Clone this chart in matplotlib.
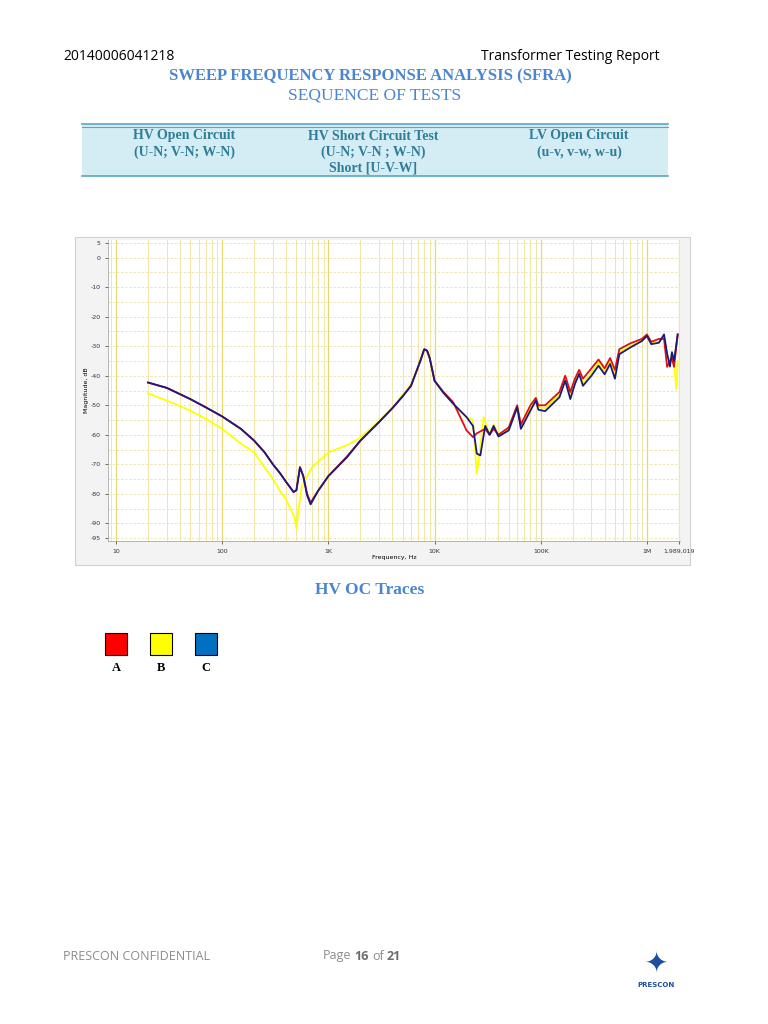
import matplotlib
matplotlib.use("Agg")
import matplotlib.pyplot as plt
from matplotlib.patches import Rectangle
from matplotlib.ticker import FixedLocator, NullFormatter, LogLocator

# ---------------- data ----------------
freq_c = [20,30,50,70,100,150,200,250,300,350,400,470,500,540,580,630,680,800,1000,1500,2000,3000,4000,5000,6000,7000,7500,8000,8500,9000,10000,12000,15000,20000,23000,25000,27000,30000,33000,36000,40000,50000,60000,65000,80000,90000,95000,110000,150000,170000,190000,210000,230000,250000,300000,350000,400000,450000,500000,550000,700000,900000,1000000,1100000,1300000,1450000,1550000,1650000,1720000,1800000,1950000]
mag_c = [-42.3,-44.1,-47.9,-50.7,-53.8,-58,-62,-65.9,-70,-73,-76,-79.4,-78.8,-71,-74,-80.5,-83.6,-79,-74,-67.6,-62,-55.7,-51,-47,-43.4,-37,-34,-31,-31.5,-34,-41.7,-45.6,-49.5,-54,-57,-66.4,-67,-57,-60,-57,-60.6,-58.5,-50.7,-58,-51.8,-48.4,-51.5,-52,-47.3,-41.7,-47.9,-42.8,-39.4,-43.4,-40,-36.6,-39.5,-36,-41,-32.7,-30.4,-28.2,-26.5,-29.3,-28.8,-26,-32.5,-36.9,-32,-35,-26]
freq_a = [20,30,50,70,100,150,200,250,300,350,400,470,500,540,580,630,680,800,1000,1500,2000,3000,4000,5000,6000,7000,7500,8000,8500,9000,10000,12000,15000,20000,23000,25000,30000,33000,36000,40000,50000,60000,65000,80000,90000,95000,110000,150000,170000,190000,210000,230000,250000,300000,350000,400000,450000,500000,550000,700000,900000,1000000,1100000,1300000,1450000,1550000,1650000,1720000,1800000,1950000]
mag_a = [-42.3,-44.1,-47.9,-50.7,-53.8,-58,-62,-65.9,-70,-73,-76,-79.4,-78.8,-71,-74,-80,-83,-79,-74,-67.3,-62,-55.7,-51,-47,-43.4,-37,-34,-31,-31.5,-34,-41.7,-45.3,-49,-58.5,-60.8,-59.5,-58,-60,-58,-60,-57.5,-50,-56.5,-50,-47.5,-50,-50,-45.5,-40,-45.5,-41,-38,-41,-37.5,-34.5,-37.5,-34,-38,-31,-29,-27.5,-26,-28.5,-27.5,-27.5,-37,-35,-34,-37,-26]
freq_b = [20,30,50,70,100,150,200,250,300,350,400,480,500,530,560,700,1000,1500,2000,3000,4000,5000,6000,7000,7500,8000,8500,9000,10000,12000,15000,20000,23000,25000,27000,29000,33000,36000,40000,50000,60000,65000,80000,90000,95000,110000,150000,170000,190000,210000,230000,250000,300000,350000,400000,450000,500000,550000,700000,900000,1000000,1100000,1300000,1450000,1550000,1650000,1720000,1800000,1900000,1950000]
mag_b = [-46,-48.4,-51.8,-54.6,-58,-63,-66,-71,-74.9,-79,-82,-88,-91.8,-84,-77.7,-71,-66,-63.5,-61,-55.3,-51,-46.5,-43,-37,-34,-31,-31.5,-34,-41.7,-45.6,-49.5,-54,-55,-73.2,-64,-54,-60,-56.5,-60,-58,-51,-57,-51,-47.5,-50.5,-51,-46.5,-41,-46.5,-42,-39,-42.5,-39,-35.5,-38.5,-35,-39.5,-32,-30,-28,-26.5,-29,-28.5,-27,-33,-35,-33,-36,-44.5,-35]

xtick_vals = [10, 100, 1000, 10000, 100000, 1000000, 1989019]
xtick_labels = ["10", "100", "1K", "10K", "100K", "1M", "1,989,019"]
ytick_vals = [5, 0, -10, -20, -30, -40, -50, -60, -70, -80, -90, -95]

W, H = 768, 1024
fig = plt.figure(figsize=(W/100, H/100), dpi=100)
fig.patch.set_facecolor("white")

def fx(x): return x / W
def fy(y): return 1 - y / H

blue_title = "#4a86d0"
teal = "#2f7d98"

# Header
fig.text(fx(63), fy(56), "20140006041218", fontsize=10, va="center", family="Open Sans")
fig.text(fx(660), fy(56), "Transformer Testing Report", fontsize=10, va="center", ha="right", family="Open Sans")
fig.text(fx(370), fy(76), "SWEEP FREQUENCY RESPONSE ANALYSIS (SFRA)", fontsize=12, weight="bold",
         color=blue_title, ha="center", va="center", family="Liberation Serif")
fig.text(fx(375), fy(96), "SEQUENCE OF TESTS", fontsize=12.5, color=blue_title, ha="center", va="center",
         family="Liberation Serif")

# Table band
fig.patches.append(Rectangle((fx(82), fy(176)), fx(668-82), (176-124)/H, transform=fig.transFigure,
                             facecolor="#d4ecf4", edgecolor="none"))
for yy, lw in [(124, 1.2), (127, 0.8), (176, 1.2)]:
    fig.add_artist(plt.Line2D([fx(82), fx(668)], [fy(yy), fy(yy)], color="#5aa5c9", lw=lw, transform=fig.transFigure))
cols = [(184, ["HV Open Circuit", "(U-N; V-N; W-N)"]),
        (373, ["HV Short Circuit Test", "(U-N; V-N ; W-N)", "Short [U-V-W]"]),
        (579, ["LV Open Circuit", "(u-v, v-w, w-u)"])]
for cx, lines in cols:
    for i, t in enumerate(lines):
        fig.text(fx(cx), fy(136 + 16 * i), t, fontsize=10, weight="bold", color=teal, ha="center", va="center",
                 family="Liberation Serif")

# Chart panel background
fig.patches.append(Rectangle((fx(75), fy(565)), fx(690-75), (565-237)/H, transform=fig.transFigure,
                             facecolor="#f3f3f3", edgecolor="#d0d0d0", lw=0.8, zorder=0))

ax = fig.add_axes([fx(108), fy(541), fx(680-108), (541-240)/H])
ax.set_zorder(3)
ax.set_facecolor("white")
ax.set_xscale("log")
ax.set_xlim(8.4, 2.05e6)
ax.set_ylim(-96, 6)
ax.xaxis.set_major_locator(FixedLocator(xtick_vals))
ax.set_xticklabels(xtick_labels)
ax.xaxis.set_minor_locator(LogLocator(base=10, subs=range(2, 10), numticks=20))
ax.xaxis.set_minor_formatter(NullFormatter())
ax.set_yticks(ytick_vals)
ax.set_yticklabels([str(v) for v in ytick_vals])
ax.set_yticks([-5, -15, -25, -35, -45, -55, -65, -75, -85], minor=True)
ax.grid(True, which="major", axis="x", color="#e8d870", lw=0.9)
ax.grid(True, which="minor", axis="x", color="#f0e6a8", lw=0.7)
ax.grid(True, which="both", axis="y", color="#ece2a8", lw=0.6, ls=(0, (3, 2)))
ax.tick_params(labelsize=4.5, length=2, width=0.5, colors="#333333")
ax.tick_params(which="minor", length=0)
for s in ax.spines.values():
    s.set_linewidth(0.5)
    s.set_color("#999999")
ax.spines["top"].set_visible(False)
ax.spines["right"].set_visible(False)
ax.set_xlabel("Frequency, Hz", fontsize=4.5, labelpad=1)
ax.set_ylabel("Magnitude, dB", fontsize=4.5, labelpad=1)

ax.plot(freq_b, mag_b, color="#ffff00", lw=1.3)
ax.plot(freq_a, mag_a, color="#e01010", lw=1.3)
ax.plot(freq_c, mag_c, color="#1a1a80", lw=1.3)

# Caption & legend
fig.text(fx(370), fy(590), "HV OC Traces", fontsize=12.5, weight="bold", color=blue_title, ha="center",
         va="center", family="Liberation Serif")
for cx, col, lab in [(116, "#ff0000", "A"), (161, "#ffff00", "B"), (206, "#0070c0", "C")]:
    fig.patches.append(Rectangle((fx(cx - 11), fy(655)), fx(22), 22/H, transform=fig.transFigure,
                                 facecolor=col, edgecolor="black", lw=0.8))
    fig.text(fx(cx), fy(668), lab, fontsize=9, weight="bold", ha="center", va="center", family="Liberation Serif")

# Footer
fig.text(fx(63), fy(956), "PRESCON CONFIDENTIAL", fontsize=9, color="#8c8c8c", va="center", family="Open Sans")
fig.text(fx(323), fy(956), "Page", fontsize=9, color="#8c8c8c", va="center", family="Open Sans")
fig.text(fx(354), fy(956), "16", fontsize=9, color="#6c6c6c", weight="bold", va="center", family="Open Sans")
fig.text(fx(372), fy(956), "of", fontsize=9, color="#8c8c8c", va="center", family="Open Sans")
fig.text(fx(387), fy(956), "21", fontsize=9, color="#6c6c6c", weight="bold", va="center", family="Open Sans")
fig.text(fx(656), fy(963), "\u2726", fontsize=20, color="#1c4fa0", ha="center", va="center", family="DejaVu Sans")
fig.text(fx(656), fy(985), "PRESCON", fontsize=5, color="#1c4fa0", weight="bold", ha="center", va="center")

fig.savefig("out.png", dpi=100)
